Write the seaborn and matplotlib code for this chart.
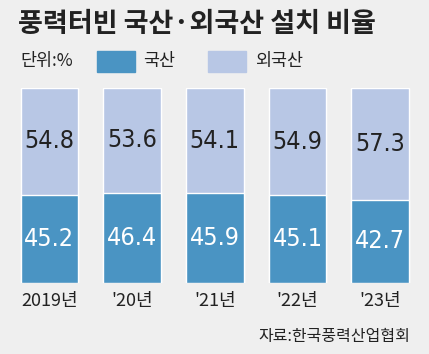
import matplotlib
matplotlib.use("Agg")
import matplotlib.pyplot as plt
import pandas as pd
import seaborn as sns
from matplotlib.patches import Rectangle

years = ["2019년", "'20년", "'21년", "'22년", "'23년"]
domestic = [45.2, 46.4, 45.9, 45.1, 42.7]
foreign = [54.8, 53.6, 54.1, 54.9, 57.3]

DARK = "#4a94c3"
LIGHT = "#b8c7e5"
BG = "#efefef"

sns.set_theme(style="white")
plt.rcParams["font.family"] = ["Noto Sans CJK KR", "DejaVu Sans"]

df = pd.DataFrame({"year": years, "domestic": domestic, "foreign": foreign})
df["total"] = df["domestic"] + df["foreign"]

fig = plt.figure(figsize=(4.29, 3.54), dpi=100, facecolor=BG)
ax = fig.add_axes([0, 71 / 354, 1, 195 / 354])
ax.set_facecolor(BG)

sns.barplot(data=df, x="year", y="total", color=LIGHT, width=0.695,
            saturation=1, ax=ax)
sns.barplot(data=df, x="year", y="domestic", color=DARK, width=0.695,
            saturation=1, ax=ax)

num_font = ["DejaVu Sans", "Noto Sans CJK KR"]
for i, (d, f) in enumerate(zip(domestic, foreign)):
    ax.text(i, d / 2, f"{d:.1f}", ha="center", va="center", color="white",
            fontsize=18, family=num_font, stretch="condensed")
    ax.text(i, d + f / 2, f"{f:.1f}", ha="center", va="center", color="#222222",
            fontsize=18, family=num_font, stretch="condensed")
    ax.text(i, -9, years[i], ha="center", va="center", color="#222222",
            fontsize=13, family=["Noto Sans CJK KR", "DejaVu Sans"])

ax.set_xlim(-49.4 / 82.7, (429 - 49.4) / 82.7)
ax.set_ylim(0, 100)
ax.set_axis_off()

fig.text(18 / 429, 1 - 24 / 354, "풍력터빈 국산·외국산 설치 비율", fontsize=19.5,
         fontweight="bold", color="#222222", va="center", ha="left")
fig.text(20 / 429, 1 - 61 / 354, "단위:%", fontsize=12.5, color="#222222",
         va="center", ha="left")
fig.add_artist(Rectangle((97 / 429, 1 - 72 / 354), 38 / 429, 21 / 354,
                         transform=fig.transFigure, color=DARK))
fig.text(143 / 429, 1 - 61 / 354, "국산", fontsize=12.5, color="#222222",
         va="center", ha="left")
fig.add_artist(Rectangle((208 / 429, 1 - 72 / 354), 38 / 429, 21 / 354,
                         transform=fig.transFigure, color=LIGHT))
fig.text(255 / 429, 1 - 61 / 354, "외국산", fontsize=12.5, color="#222222",
         va="center", ha="left")
fig.text(410 / 429, 1 - 336 / 354, "자료:한국풍력산업협회", fontsize=11.5,
         color="#222222", va="center", ha="right")

fig.savefig("out.png", dpi=100, facecolor=BG)
